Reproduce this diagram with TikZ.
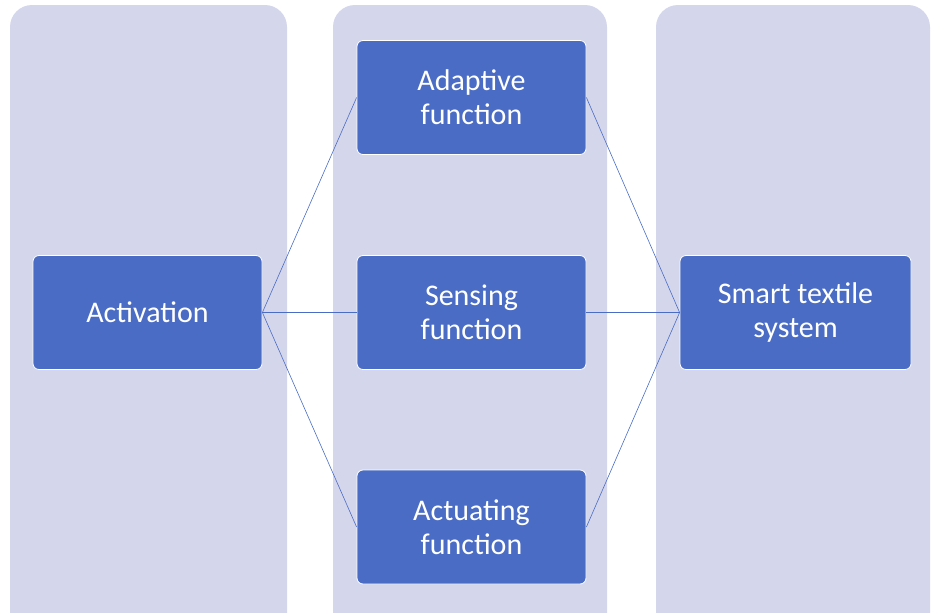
\documentclass[tikz,border=0pt]{standalone}
\usepackage{fontspec}
\setmainfont{Carlito}
\begin{document}
\begin{tikzpicture}[x=1pt,y=-1pt,
  bg/.style={fill=bgc,rounded corners=22pt,draw=none},
  box/.style={fill=boxc,draw=white,line width=0.8pt,rounded corners=6pt,minimum width=229pt,minimum height=114pt,text=white,font=\fontsize{30}{34}\selectfont,align=center,inner sep=2pt},
  link/.style={draw=boxc,line width=0.6pt}]
\definecolor{bgc}{HTML}{D4D6EC}
\definecolor{boxc}{HTML}{4A6CC4}
\useasboundingbox (0,0) rectangle (937,613);
\fill[bg] (10,5) rectangle (287,640);
\fill[bg] (333,5) rectangle (607,640);
\fill[bg] (656,5) rectangle (930,640);
\node[box] (act) at (147.5,312.5) {Activation};
\node[box] (ada) at (471.5,97.5) {Adaptive\\function};
\node[box] (sen) at (471.5,312.5) {Sensing\\function};
\node[box] (actu) at (471.5,527) {Actuating\\function};
\node[box,minimum width=231pt] (sts) at (795.5,312.5) {Smart textile\\system};
\draw[link] (act.east) -- (ada.west);
\draw[link] (act.east) -- (sen.west);
\draw[link] (act.east) -- (actu.west);
\draw[link] (ada.east) -- (sts.west);
\draw[link] (sen.east) -- (sts.west);
\draw[link] (actu.east) -- (sts.west);
\end{tikzpicture}
\end{document}
